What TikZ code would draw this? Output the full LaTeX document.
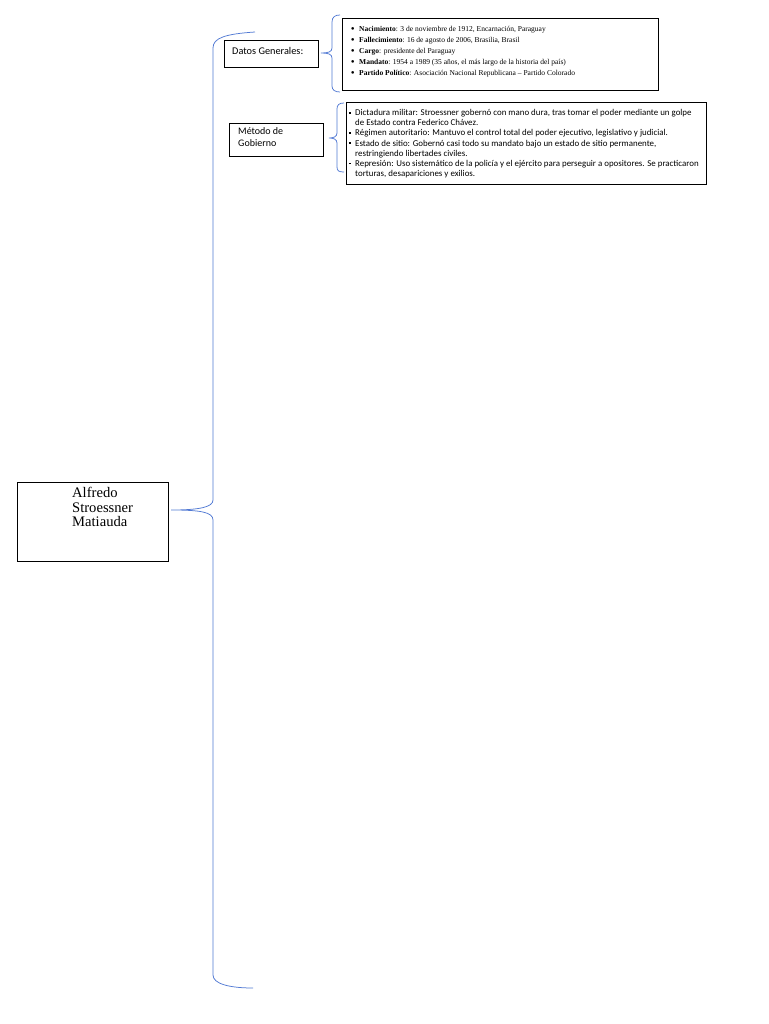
\documentclass[tikz,border=0pt]{standalone}
\usepackage{fontspec}
\setmainfont{Liberation Serif}
\newfontfamily\calib{Carlito}
\definecolor{braceblue}{RGB}{82,122,212}
\newcommand{\bulA}{\llap{\raisebox{-0.9pt}{\fontsize{11}{11}\selectfont\textbullet}\hspace{4.5pt}}}
\newcommand{\bulB}{\llap{\rule[2pt]{2.4pt}{1.6pt}\hspace{4pt}}}
\begin{document}
\begin{tikzpicture}[x=1pt,y=-1pt,
  box/.style={draw=black, line width=0.8pt, inner sep=0pt, anchor=north west},
  brace/.style={draw=braceblue, line width=0.75pt},
  lbl/.style={inner sep=0pt, align=left, anchor=north west}]
\useasboundingbox[fill=white] (0,0) rectangle (768,1024);

% main box
\node[box, minimum width=151pt, minimum height=79pt] (main) at (17,482) {};
\node[lbl, font=\fontsize{14.6}{14.5}\selectfont] (mainlbl) at (72,487.5) {\strut Alfredo\\Stroessner\\Matiauda};

% Datos Generales
\node[box, minimum width=94pt, minimum height=27pt] (datos) at (224,40) {};
\node[lbl, anchor=west, font=\calib\fontsize{10.3}{12}\selectfont] (datoslbl) at (232,51) {Datos Generales:};

% Metodo de Gobierno
\node[box, minimum width=94pt, minimum height=33pt] (metodo) at (229,123) {};
\node[lbl, font=\calib\fontsize{10}{12}\selectfont] (metodolbl) at (238,126) {\strut Método de\\Gobierno};

% Box 1
\node[box, minimum width=316pt, minimum height=72pt] (info) at (342,18) {};
\node[lbl, font=\fontsize{7.5}{11}\selectfont] (infolbl) at (359,23.5) {\strut\bulA\textbf{Nacimiento}: 3 de noviembre de 1912, Encarnación, Paraguay\\
\bulA\textbf{Fallecimiento}: 16 de agosto de 2006, Brasilia, Brasil\\
\bulA\textbf{Cargo}: presidente del Paraguay\\
\bulA\textbf{Mandato}: 1954 a 1989 (35 años, el más largo de la historia del país)\\
\bulA\textbf{Partido Político}: Asociación Nacional Republicana – Partido Colorado};

% Box 2
\node[box, minimum width=360pt, minimum height=82pt] (gob) at (346,102) {};
\node[lbl, font=\calib\fontsize{8.9}{10.1}\selectfont] (goblbl) at (355,108.5) {\strut\bulB Dictadura militar: Stroessner gobernó con mano dura, tras tomar el poder mediante un golpe\\
de Estado contra Federico Chávez.\\
\bulB Régimen autoritario: Mantuvo el control total del poder ejecutivo, legislativo y judicial.\\
\bulB Estado de sitio: Gobernó casi todo su mandato bajo un estado de sitio permanente,\\
restringiendo libertades civiles.\\
\bulB Represión: Uso sistemático de la policía y el ejército para perseguir a opositores. Se practicaron\\
torturas, desapariciones y exilios.};

% braces
\coordinate (bigtip) at (171,510);
\coordinate (bigtop) at (255,32);
\coordinate (bigbot) at (253,988);
\draw[brace] (bigtop) .. controls (225,34) and (213,38) .. (213,48) -- (213,500)
  .. controls (213,507) and (200,510) .. (bigtip)
  .. controls (200,510) and (213,512) .. (213,520) -- (213,975)
  .. controls (213,984) and (230,988) .. (bigbot);

\coordinate (dtip) at (321,53);
\coordinate (dtop) at (340,15);
\coordinate (dbot) at (340,92);
\draw[brace] (dtop) .. controls (335,15) and (332,17) .. (332,22) -- (332,48)
  .. controls (332,52) and (328,53) .. (dtip)
  .. controls (328,53) and (332,54) .. (332,58) -- (332,86)
  .. controls (332,90) and (335,92) .. (dbot);

\coordinate (mtip) at (329,138);
\coordinate (mtop) at (344,103);
\coordinate (mbot) at (344,172);
\draw[brace] (mtop) .. controls (339,103) and (337,105) .. (337,109) -- (337,133)
  .. controls (337,137) and (333,138) .. (mtip)
  .. controls (333,138) and (337,139) .. (337,143) -- (337,167)
  .. controls (337,171) and (339,172) .. (mbot);
\end{tikzpicture}
\end{document}
